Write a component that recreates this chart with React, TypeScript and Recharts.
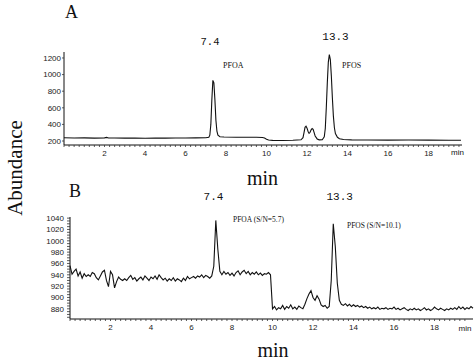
import React from "react";
import { LineChart, Line, XAxis, YAxis } from "recharts";

// Panel A (retention time in min, abundance)
const timeA = [
  0, 0.5, 1, 1.5, 2, 2.1, 2.2, 2.5, 3, 3.5, 4, 4.5, 5, 5.5, 6, 6.5, 7, 7.15, 7.2, 7.25,
  7.3, 7.35, 7.4, 7.45, 7.5, 7.55, 7.6, 7.7, 7.9, 8.5, 9, 9.5, 9.8, 9.9, 10, 10.1, 10.3,
  10.8, 11.3, 11.7, 11.8, 11.85, 11.9, 11.95, 12.0, 12.05, 12.1, 12.15, 12.2, 12.25, 12.3,
  12.35, 12.4, 12.5, 12.6, 12.75, 12.85, 12.9, 12.95, 13.0, 13.05, 13.1, 13.15, 13.2,
  13.25, 13.3, 13.35, 13.4, 13.5, 13.6, 13.8, 14.2, 15, 16, 17, 18, 19, 19.6,
];
const abundanceA = [
  240, 236, 238, 235, 238, 244, 236, 237, 235, 236, 234, 236, 235, 237, 236, 238, 240, 245, 270, 400,
  700, 930, 900, 700, 450, 320, 270, 252, 248, 246, 245, 246, 243, 236, 222, 212, 208,
  207, 210, 215, 240, 300, 365, 378, 355, 315, 292, 305, 335, 350, 340,
  300, 260, 225, 214, 215, 250, 350, 600, 900, 1150, 1240, 1180, 980,
  720, 500, 360, 290, 245, 228, 218, 214, 212, 211, 212, 211, 210, 210,
];

// Panel B, sampled every 0.1 min from 0.0 to 19.9
const abundanceB = [
  956, 941, 946, 950, 938, 945, 934, 942, 937, 940,
  937, 944, 942, 935, 931, 938, 945, 948, 930, 919,
  946, 940, 917, 928, 936, 932, 930, 933, 930, 935,
  939, 932, 935, 929, 933, 936, 931, 938, 934, 930,
  936, 933, 938, 932, 940, 935, 931, 934, 929, 933,
  930, 935, 929, 933, 931, 928, 934, 930, 937, 933,
  935, 937, 934, 938, 936, 940, 935, 939, 937, 934,
  938, 955, 1036, 985, 946, 940, 946, 941, 944, 939,
  943, 938, 944, 947, 940, 945, 948, 942, 946, 940,
  944, 941, 945, 940, 943, 939, 942, 941, 944, 940,
  880, 884, 878, 882, 880, 886, 879, 884, 881, 887,
  880, 883, 879, 885, 882, 880, 888, 898, 906, 912,
  900, 895, 903, 897, 887, 884, 886, 881, 884, 930,
  1030, 990, 925, 895, 888, 886, 889, 885, 888, 884,
  887, 884, 886, 883, 885, 882, 884, 881, 883, 880,
  882, 880, 883, 879, 881, 880, 882, 879, 881, 880,
  883, 879, 881, 878, 880, 882, 879, 877, 880, 878,
  881, 878, 880, 877, 879, 882, 878, 880, 877, 879,
  883, 880, 878, 881, 879, 877, 880, 878, 881, 879,
  882, 879, 884, 880, 883, 879, 882, 880, 884, 881,
];

const xTickLabels = [2, 4, 6, 8, 10, 12, 14, 16, 18];
const yTicksA = [200, 400, 600, 800, 1000, 1200];
const yTicksB = [880, 900, 920, 940, 960, 980, 1000, 1020, 1040];

const dataA = timeA.map((t, i) => ({ t, v: abundanceA[i] }));
const dataB = abundanceB.map((v, i) => ({ t: Math.round(i) / 10, v }));

// minor tick marks along the axes
const xMinor = Array.from({ length: 79 }, (_, i) => i * 0.25);
const yMinorB = Array.from({ length: 36 }, (_, i) => 865 + i * 5);

const SANS = "Liberation Sans, Arial, sans-serif";
const SERIF = "Liberation Serif, Times New Roman, serif";
const MONO = "Liberation Mono, Courier New, monospace";

const xTick = (props: any) => {
  const { x, y, payload } = props;
  if (!xTickLabels.includes(payload.value)) return <g />;
  return (
    <text x={x} y={y} dy="0.71em" textAnchor="middle" fontSize={8} fontFamily={SANS} fill="#222">
      {payload.value}
    </text>
  );
};

const yTick = (labels: number[]) => (props: any) => {
  const { x, y, payload } = props;
  if (!labels.includes(payload.value)) return <g />;
  return (
    <text x={x} y={y} dy="0.355em" textAnchor="end" fontSize={8} fontFamily={SANS} fill="#222">
      {payload.value}
    </text>
  );
};

const axisLine = { stroke: "#111", strokeWidth: 1 };
const tickLine = { stroke: "#333", strokeWidth: 0.8 };

export default function App() {
  return (
    <div style={{ position: "absolute", left: 0, top: 0, width: 474, height: 360, background: "#fff" }}>
      <div style={{ position: "absolute", left: 0, top: 0 }}>
        <LineChart width={474} height={165} data={dataA} margin={{ top: 52, right: 12, bottom: 0, left: 24 }}>
          <XAxis
            dataKey="t"
            type="number"
            domain={[0, 19.65]}
            ticks={xMinor}
            interval={0}
            tick={xTick}
            tickSize={2}
            tickMargin={3}
            height={20}
            axisLine={axisLine}
            tickLine={tickLine}
          />
          <YAxis
            type="number"
            domain={[152, 1272]}
            ticks={yTicksA}
            interval={0}
            tick={yTick(yTicksA)}
            tickSize={2}
            tickMargin={1}
            width={40}
            axisLine={axisLine}
            tickLine={tickLine}
          />
          <Line dataKey="v" type="linear" stroke="#111" strokeWidth={1.1} dot={false} isAnimationActive={false} />
        </LineChart>
      </div>
      <div style={{ position: "absolute", left: 0, top: 165 }}>
        <LineChart width={474} height={174} data={dataB} margin={{ top: 52, right: 1, bottom: 0, left: 30 }}>
          <XAxis
            dataKey="t"
            type="number"
            domain={[0, 19.82]}
            ticks={xMinor}
            interval={0}
            tick={xTick}
            tickSize={2}
            tickMargin={3}
            height={20}
            axisLine={axisLine}
            tickLine={tickLine}
          />
          <YAxis
            type="number"
            domain={[862, 1042]}
            ticks={yMinorB}
            interval={0}
            tick={yTick(yTicksB)}
            tickSize={3}
            tickMargin={3}
            width={40}
            axisLine={axisLine}
            tickLine={tickLine}
          />
          <Line dataKey="v" type="linear" stroke="#111" strokeWidth={1.1} dot={false} isAnimationActive={false} />
        </LineChart>
      </div>
      <svg width={474} height={360} style={{ position: "absolute", left: 0, top: 0, pointerEvents: "none" }}>
        <g fill="#111">
          <text x={71.5} y={18} fontSize={18} fontFamily={SERIF} textAnchor="middle">A</text>
          <text x={210} y={45} fontSize={10.5} fontFamily={MONO} textAnchor="middle">7.4</text>
          <text x={223} y={68} fontSize={8} fontFamily={SERIF}>PFOA</text>
          <text x={335.5} y={40} fontSize={11} fontFamily={MONO} textAnchor="middle">13.3</text>
          <text x={342} y={68} fontSize={8} fontFamily={SERIF}>PFOS</text>
          <text x={457.5} y={155} fontSize={8} fontFamily={SANS} textAnchor="middle">min</text>
          <text x={262.5} y={185} fontSize={20} fontFamily={SERIF} textAnchor="middle">min</text>
          <text
            x={0}
            y={0}
            fontSize={21}
            fontFamily={SERIF}
            textAnchor="middle"
            transform="translate(22 168) rotate(-90)"
          >
            Abundance
          </text>
          <text x={75} y={197} fontSize={18} fontFamily={SERIF} textAnchor="middle">B</text>
          <text x={213.5} y={200} fontSize={11} fontFamily={MONO} textAnchor="middle">7.4</text>
          <text x={233} y={222} fontSize={7.5} fontFamily={SERIF}>PFOA (S/N=5.7)</text>
          <text x={339.7} y={200} fontSize={11} fontFamily={MONO} textAnchor="middle">13.3</text>
          <text x={347} y={228} fontSize={7.5} fontFamily={SERIF}>PFOS (S/N=10.1)</text>
          <text x={465} y={331} fontSize={8} fontFamily={SANS} textAnchor="middle">min</text>
          <text x={273} y={357} fontSize={20} fontFamily={SERIF} textAnchor="middle">min</text>
        </g>
      </svg>
    </div>
  );
}
